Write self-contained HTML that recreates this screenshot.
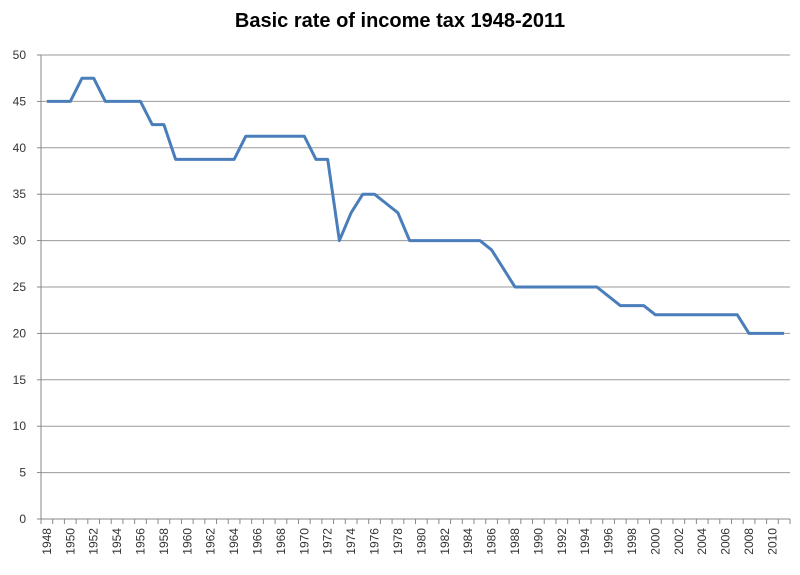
<!DOCTYPE html>
<html><head><meta charset="utf-8"><style>
body{margin:0;background:#fff;width:800px;height:570px;overflow:hidden;font-family:"Liberation Sans",sans-serif}
</style></head><body>
<svg width="800" height="570" id="chart" xmlns="http://www.w3.org/2000/svg">
<text x="400" y="27" text-anchor="middle" font-size="20" font-weight="bold" fill="#000">Basic rate of income tax 1948-2011</text>
<g id="grid"></g><g id="axes"></g><g id="series"></g>
</svg>
<script>
const years = [];
for (let y = 1948; y <= 2011; y++) years.push(y);
const rates = [45,45,45,47.5,47.5,45,45,45,45,42.5,42.5,38.75,38.75,38.75,38.75,38.75,38.75,41.25,41.25,41.25,41.25,41.25,41.25,38.75,38.75,30,33,35,35,34,33,30,30,30,30,30,30,30,29,27,25,25,25,25,25,25,25,25,24,23,23,23,22,22,22,22,22,22,22,22,20,20,20,20];
const yTicks = [0,5,10,15,20,25,30,35,40,45,50];
const NS = "http://www.w3.org/2000/svg";
const L = 41, R = 790, T = 55, B = 519;
const step = (R - L) / years.length;
const xPos = i => L + step * (i + 0.5);
const yPos = v => B - (v / 50) * (B - T);
function mk(tag, attrs, parent) { const e = document.createElementNS(NS, tag); for (const k in attrs) e.setAttribute(k, attrs[k]); parent.appendChild(e); return e; }
const grid = document.getElementById('grid'), axes = document.getElementById('axes'), series = document.getElementById('series');
yTicks.forEach(t => {
  const y = yPos(t);
  if (t > 0) {
    const g = mk('line', {x1: L, x2: R, y1: y, y2: y, stroke: '#9a9a9a', 'stroke-width': 1}, grid);
    
    
  }
  const tk = mk('line', {x1: L - 4, x2: L, y1: y, y2: y, stroke: '#888'}, axes);
  
  
  const tx = mk('text', {x: 26, y: y + 4, 'text-anchor': 'end', 'font-size': 12, fill: '#333'}, axes);
  tx.textContent = t;
  
  
});
const ya = mk('line', {x1: L, x2: L, y1: T, y2: B, stroke: '#888'}, axes);


const xa = mk('line', {x1: L, x2: R, y1: B, y2: B, stroke: '#888'}, axes);


for (let i = 0; i <= years.length; i++) {
  const x = L + step * i;
  const tk = mk('line', {x1: x, x2: x, y1: B, y2: B + 5, stroke: '#888'}, axes);
  
  
}
years.forEach((yr, i) => {
  if ((yr - 1948) % 2) return;
  const x = xPos(i);
  const tx = mk('text', {x: x + 4, y: B + 9, 'text-anchor': 'end', 'font-size': 12, fill: '#333', transform: `rotate(-90 ${x + 4} ${B + 9})`}, axes);
  tx.textContent = yr;
  
  
});
const pts = rates.map((v, i) => xPos(i).toFixed(1) + ',' + yPos(v).toFixed(1)).join(' ');
const line = mk('polyline', {points: pts, fill: 'none', stroke: '#4a7ebb', 'stroke-width': 3, 'stroke-linejoin': 'round'}, series);


</script>
</body></html>
